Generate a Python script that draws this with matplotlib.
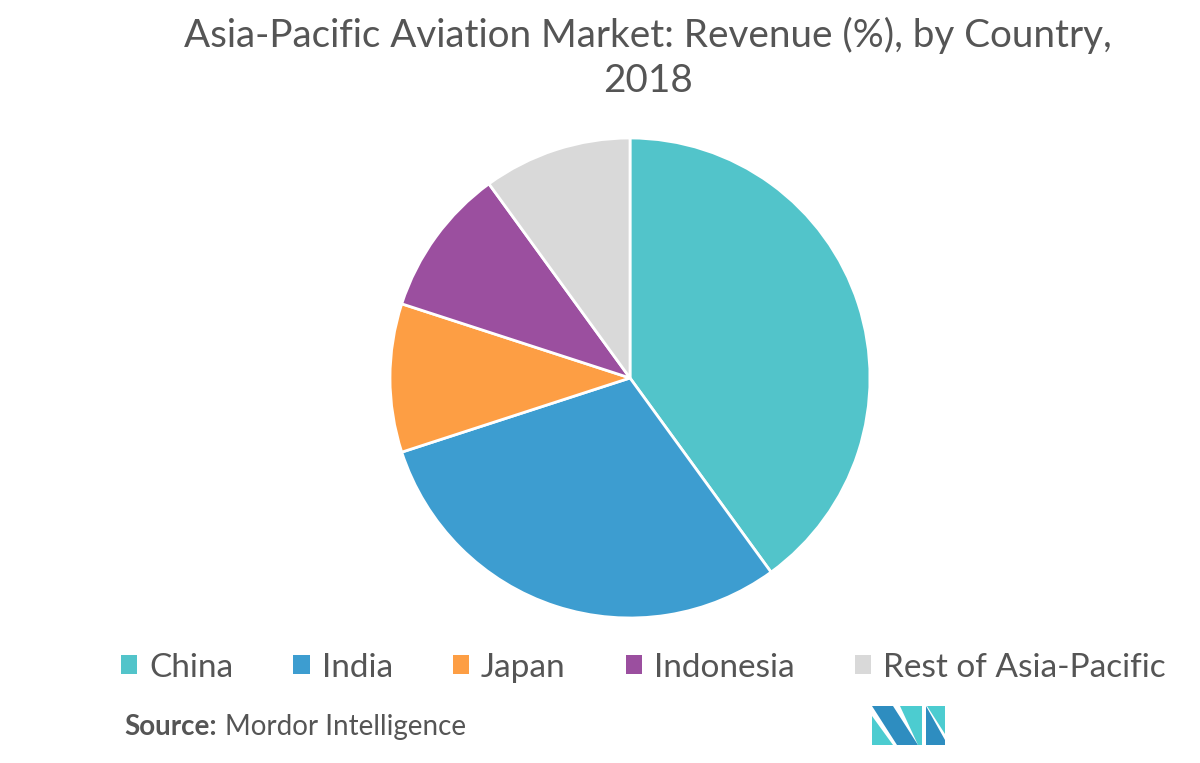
import matplotlib
matplotlib.use("Agg")
import matplotlib.pyplot as plt
from matplotlib.patches import Patch, Polygon

categories = ["China", "India", "Japan", "Indonesia", "Rest of Asia-Pacific"]
shares = [40, 30, 10, 10, 10]
colors = ["#52C4CA", "#3D9DD0", "#FD9E44", "#9B4F9F", "#D9D9D9"]
title = "Asia-Pacific Aviation Market: Revenue (%), by Country,\n2018"

fig = plt.figure(figsize=(12, 7.63), dpi=100)
fig.patch.set_facecolor("white")

fig.text(0.54, 0.978, title, ha="center", va="top", fontsize=27.8,
         color="#555555", family="Lato", linespacing=1.3)

ax = fig.add_axes([0.525 - 0.2, 0.5046 - 0.3155, 0.4, 0.631])
ax.pie(shares, colors=colors, startangle=90, counterclock=False,
       wedgeprops=dict(edgecolor="white", linewidth=2))
ax.set_xlim(-1.0, 1.0)
ax.set_ylim(-1.0, 1.0)
ax.set_aspect("equal")

handles = [Patch(facecolor=c, edgecolor="none") for c in colors]
leg = fig.legend(handles, categories, loc="center", bbox_to_anchor=(0.536, 0.125),
                 ncol=5, frameon=False, handlelength=0.5,
                 handleheight=0.5, handletextpad=0.35, columnspacing=1.8,
                 prop=dict(family="Lato", size=24))
for t in leg.get_texts():
    t.set_color("#555555")

src = fig.text(0.104, 0.047, "Source:", fontsize=20, fontweight="bold",
               color="#555555", family="Lato", va="center")
fig.canvas.draw()
bb = src.get_window_extent().transformed(fig.transFigure.inverted())
fig.text(bb.x1 + 0.006, 0.047, "Mordor Intelligence", fontsize=20,
         color="#555555", family="Lato", va="center")

# logo
def px(x, y):
    return (x / 1200, 1 - y / 763)
dark = "#2E8DC0"
teal = "#4CCCD0"
logo = [
    ([(872, 706), (893, 706), (918, 745), (897, 745)], dark),
    ([(872, 716), (893, 745), (872, 745)], teal),
    ([(900, 706), (922, 706), (922, 745), (918, 745)], teal),
    ([(926, 706), (945, 740), (945, 745), (926, 745)], dark),
    ([(927, 706), (945, 706), (945, 734)], teal),
]
for pts, col in logo:
    fig.patches.append(Polygon([px(*p) for p in pts], closed=True, facecolor=col,
                               edgecolor="none", transform=fig.transFigure, figure=fig))

fig.savefig("out.png", dpi=100, facecolor="white")
